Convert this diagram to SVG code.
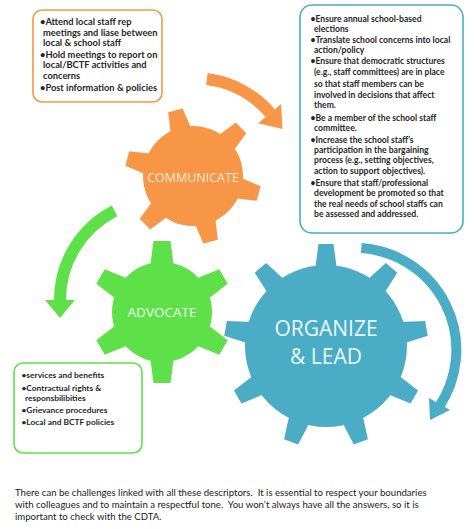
<svg xmlns="http://www.w3.org/2000/svg" xmlns:xlink="http://www.w3.org/1999/xlink" width="474" height="529" viewBox="0 0 474 529">
<style>
.bt{font-family:Lato,"Liberation Sans",sans-serif;font-weight:bold;font-size:8.6px;fill:#262626}
.para{font-family:Lato,"Liberation Sans",sans-serif;font-size:9.6px;fill:#1a1a1a;white-space:pre}
.lbl{font-family:"Open Sans","Liberation Sans",sans-serif;text-anchor:middle}
.box{fill:#fff;stroke-width:1.6}
</style>
<defs>
<polygon id="tO" points="-11,-44 11,-44 7.5,-68 -7.5,-68"/>
<polygon id="tG" points="-12,-44 12,-44 8.5,-71 -8.5,-71"/>
<polygon id="tB" points="-11,-76 11,-76 7.5,-102 -7.5,-102"/>
</defs>
<rect width="474" height="529" fill="#fff"/>
<g id="connectors">
<path d="M206.9,79 A100,100 0 0,1 270.2,113.1" fill="none" stroke="#F79646" stroke-width="12"/>
<polygon points="281.1,104.1 258.1,123.3 282.5,129" fill="#F79646"/>
<path d="M114.6,210.9 A100,100 0 0,0 60,301" fill="none" stroke="#5EE048" stroke-width="12"/>
<polygon points="45,300 75,300 60,318" fill="#5EE048"/>
<path d="M361.3,248.1 A102,102 0 0,1 439.5,406" fill="none" stroke="#4BACC6" stroke-width="10"/>
<polygon points="450,410 429,398 430,420" fill="#4BACC6"/>
</g>
<g id="communicate" fill="#F79646">
<circle cx="193" cy="176" r="50"/>
<use xlink:href="#tO" transform="translate(193,176) rotate(105)"/>
<use xlink:href="#tO" transform="translate(193,176) rotate(165)"/>
<use xlink:href="#tO" transform="translate(193,176) rotate(225)"/>
<use xlink:href="#tO" transform="translate(193,176) rotate(285)"/>
<use xlink:href="#tO" transform="translate(193,176) rotate(345)"/>
<use xlink:href="#tO" transform="translate(193,176) rotate(45)"/>
<text class="lbl" x="193" y="181.5" font-size="12.5" fill="#FDEBD9">COMMUNICATE</text>
</g>
<g id="advocate" fill="#5EE048">
<circle cx="162" cy="312" r="50"/>
<use xlink:href="#tG" transform="translate(162,312) rotate(0)"/>
<use xlink:href="#tG" transform="translate(162,312) rotate(60)"/>
<use xlink:href="#tG" transform="translate(162,312) rotate(120)"/>
<use xlink:href="#tG" transform="translate(162,312) rotate(180)"/>
<use xlink:href="#tG" transform="translate(162,312) rotate(240)"/>
<use xlink:href="#tG" transform="translate(162,312) rotate(300)"/>
<text class="lbl" x="162" y="317" font-size="13.5" fill="#F2FFF0">ADVOCATE</text>
</g>
<g id="organize" fill="#4BACC6">
<circle cx="326" cy="346" r="81"/>
<use xlink:href="#tB" transform="translate(326,346) rotate(0)"/>
<use xlink:href="#tB" transform="translate(326,346) rotate(40)"/>
<use xlink:href="#tB" transform="translate(326,346) rotate(80)"/>
<use xlink:href="#tB" transform="translate(326,346) rotate(120)"/>
<use xlink:href="#tB" transform="translate(326,346) rotate(160)"/>
<use xlink:href="#tB" transform="translate(326,346) rotate(200)"/>
<use xlink:href="#tB" transform="translate(326,346) rotate(240)"/>
<use xlink:href="#tB" transform="translate(326,346) rotate(280)"/>
<use xlink:href="#tB" transform="translate(326,346) rotate(320)"/>
<text class="lbl" x="326" y="336" font-size="21" fill="#EAF7FA">ORGANIZE</text>
<text class="lbl" x="326" y="364" font-size="21" fill="#EAF7FA">&amp; LEAD</text>
</g>
<g id="communicate-box">
<rect class="box" x="33" y="10" width="129" height="92" rx="9" stroke="#F79646"/>
<text class="bt" style="font-size:9.3px"><tspan x="40" y="25">•Attend local staff rep</tspan><tspan x="43" y="36">meetings and liase between</tspan><tspan x="43" y="46">local &amp; school staff</tspan><tspan x="40" y="57.5">•Hold meetings to report on</tspan><tspan x="43" y="68">local/BCTF activities and</tspan><tspan x="43" y="79">concerns</tspan><tspan x="40" y="91">•Post information &amp; policies</tspan></text>
</g>
<g id="organize-box">
<rect class="box" x="300" y="5" width="163" height="228" rx="12" stroke="#4BACC6"/>
<text class="bt"><tspan x="310.5" y="21.5">•Ensure annual school-based</tspan><tspan x="314" y="31.5">elections</tspan><tspan x="310.5" y="42.5">•Translate school concerns into local</tspan><tspan x="314" y="53">action/policy</tspan><tspan x="310.5" y="64">•Ensure that democratic structures</tspan><tspan x="314" y="75">(e.g., staff committees) are in place</tspan><tspan x="314" y="86.5">so that staff members can be</tspan><tspan x="314" y="97.5">involved in decisions that affect</tspan><tspan x="314" y="107.5">them.</tspan><tspan x="310.5" y="120.5">•Be a member of the school staff</tspan><tspan x="314" y="130.5">committee.</tspan><tspan x="310.5" y="142.5">•Increase the school staff’s</tspan><tspan x="314" y="152.5">participation in the bargaining</tspan><tspan x="314" y="162.5">process (e.g., setting objectives,</tspan><tspan x="314" y="174">action to support objectives).</tspan><tspan x="310.5" y="186">•Ensure that staff/professional</tspan><tspan x="314" y="196">development be promoted so that</tspan><tspan x="314" y="206.5">the real needs of school staffs can</tspan><tspan x="314" y="216.5">be assessed and addressed.</tspan></text>
</g>
<g id="advocate-box">
<rect class="box" x="14" y="363" width="128" height="90" rx="9" stroke="#5EE048"/>
<text class="bt" style="font-size:8.4px"><tspan x="21.5" y="378">•services and benefits</tspan><tspan x="21.5" y="390.5">•Contractual rights &amp;</tspan><tspan x="25" y="401">responsbilibities</tspan><tspan x="21.5" y="413">•Grievance procedures</tspan><tspan x="21.5" y="425">•Local and BCTF policies</tspan></text>
</g>
<text class="para"><tspan x="15" y="496">There can be challenges linked with all these descriptors.  It is essential to respect your boundaries</tspan><tspan x="15" y="508">with colleagues and to maintain a respectful tone.  You won’t always have all the answers, so it is</tspan><tspan x="15" y="520">important to check with the CDTA.</tspan></text>
</svg>
